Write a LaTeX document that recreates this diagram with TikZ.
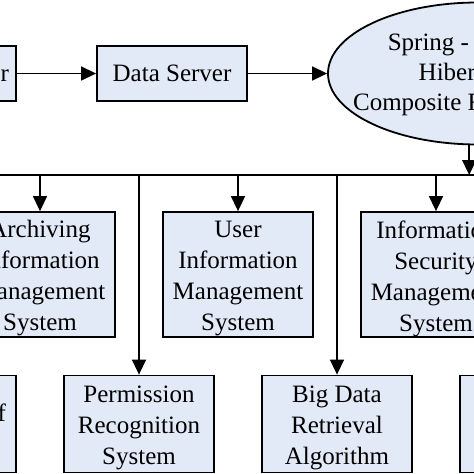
\documentclass[tikz,border=0pt]{standalone}
\usepackage{fontspec}
\setmainfont{Liberation Serif}
\usetikzlibrary{shapes.geometric,arrows.meta}
\definecolor{boxfill}{RGB}{226,234,247}
\begin{document}
\begin{tikzpicture}[x=1pt,y=-1pt,
  box/.style={draw=black,line width=1.8pt,fill=boxfill,minimum width=150pt,inner sep=0pt,align=center,font=\fontsize{25}{31}\selectfont},
  txt/.style={inner sep=0pt,align=center,font=\fontsize{25}{31}\selectfont},
  conn/.style={line width=1.5pt},
  arr/.style={conn,-{Triangle[length=15pt,width=14pt]}},
  lbl/.style={inner sep=0pt,align=center,font=\fontsize{25}{30}\selectfont}]
\useasboundingbox (0,0) rectangle (474,474);
% top row
\node[box,minimum height=55pt] (web) at (-59,73.5) {Web Browser};
\node[box,minimum height=55pt] (data) at (172,73.5) {Data Server};
\node[draw=black,line width=1.8pt,fill=boxfill,ellipse,minimum width=300pt,minimum height=142pt,inner sep=0pt] (ssh) at (478,73.5) {};
\node[lbl] (sshtext) at (468,75) {Spring - Struts -\\Hibernate\\Composite Framework};
% middle row
\node[box,minimum height=125pt] (arch) at (40,274.5) {};
\node[txt] (archT) at ([yshift=-4pt]arch.center) {Archiving\\Information\\Management\\System};
\node[box,minimum height=125pt] (user) at (238,274.5) {};
\node[txt] (userT) at ([yshift=-4pt]user.center) {User\\Information\\Management\\System};
\node[box,minimum height=125pt] (secu) at (436,274.5) {};
\node[txt] (secuT) at ([yshift=-4pt]secu.center) {Information\\Security\\Management\\System};
% bottom row
\node[box,minimum height=97pt] (prot) at (-59,424) {};
\node[txt] (protT) at ([yshift=-4pt]prot.center) {Protection of\\Archives};
\node[box,minimum height=97pt] (perm) at (139,424) {};
\node[txt] (permT) at ([yshift=-4pt]perm.center) {Permission\\Recognition\\System};
\node[box,minimum height=97pt] (big) at (337,424) {};
\node[txt] (bigT) at ([yshift=-4pt]big.center) {Big Data\\Retrieval\\Algorithm};
\node[box,minimum height=97pt] (arinfo) at (535,424) {};
\node[txt] (arinfoT) at ([yshift=-4pt]arinfo.center) {Archives\\Information\\Retrieval};
% bus
\coordinate (busL) at (-20,175);
\coordinate (busR) at (495,175);
\draw[conn] (busL) -- (busR);
% connectors
\draw[arr] (web) -- (data);
\draw[arr] (data) -- (ssh);
\draw[arr] (ssh.-97) -- (ssh.-97 |- busL);
\draw[arr] (arch.north |- busL) -- (arch.north);
\draw[arr] (user.north |- busL) -- (user.north);
\draw[arr] (secu.north |- busL) -- (secu.north);
\draw[arr] (perm.north |- busL) -- (perm.north);
\draw[arr] (big.north |- busL) -- (big.north);
\end{tikzpicture}
\end{document}
